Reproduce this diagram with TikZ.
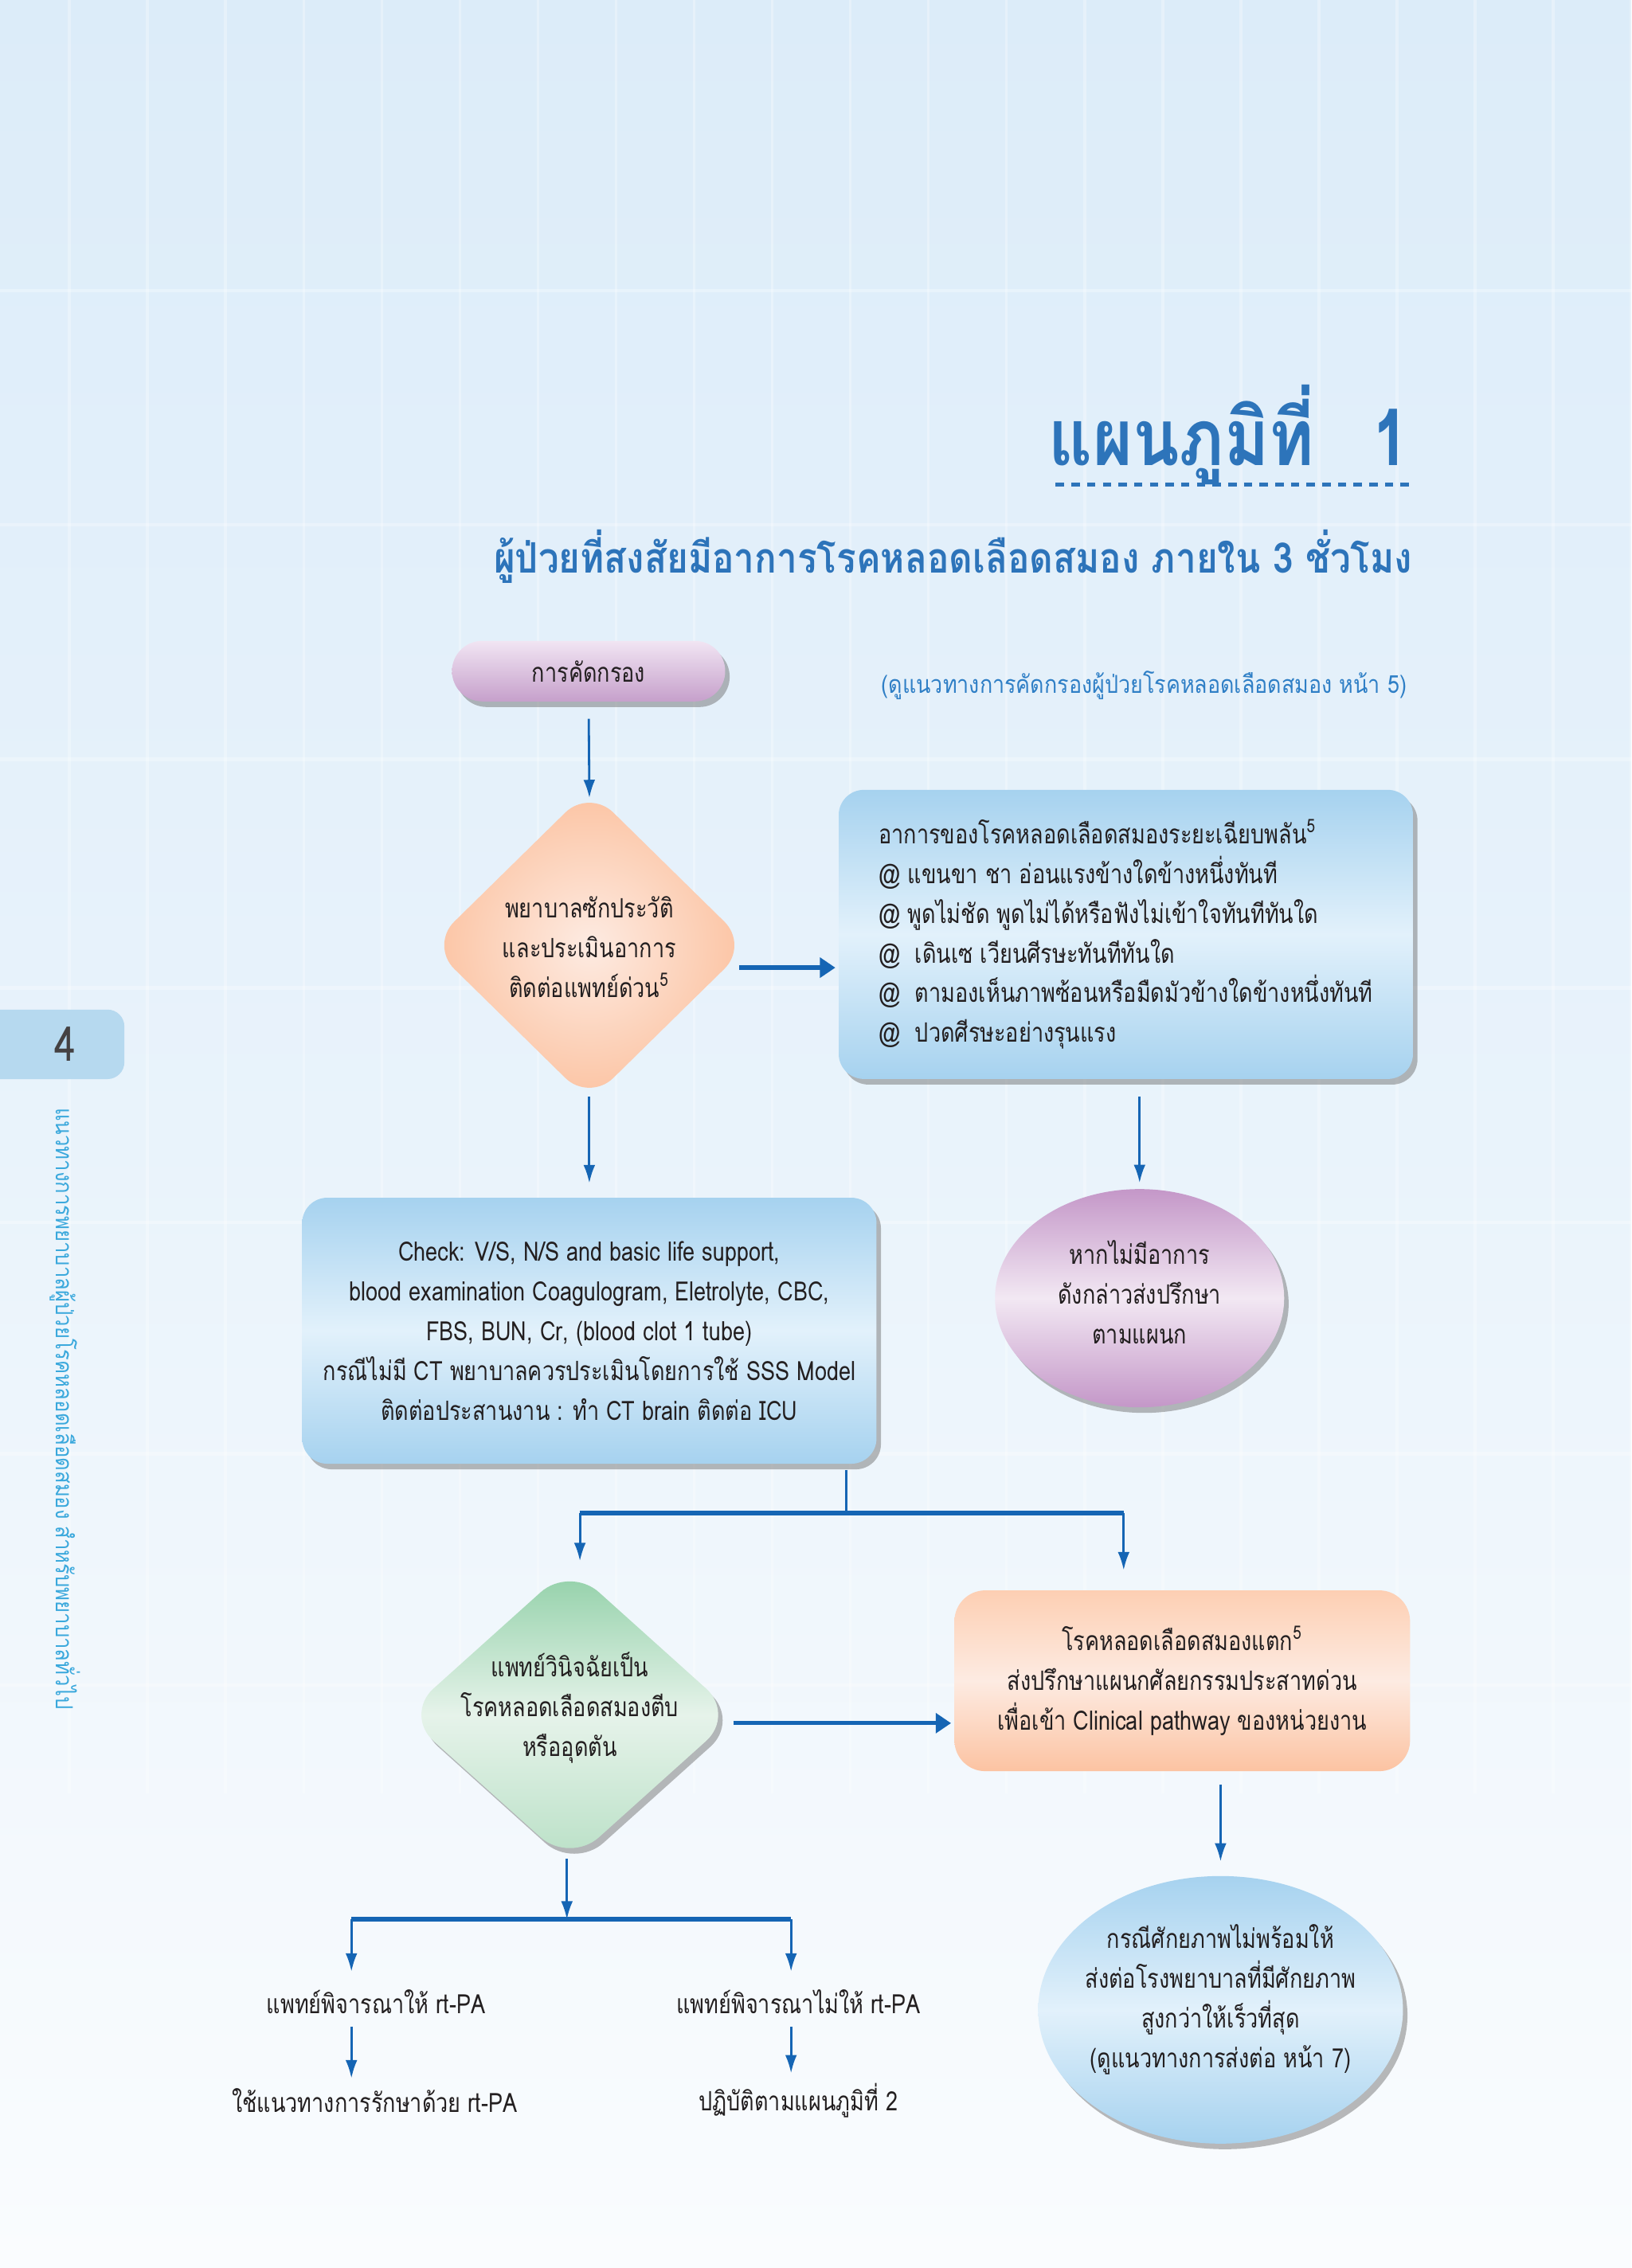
\documentclass[tikz,border=0pt]{standalone}
\usepackage{fontspec}
\setmainfont{Loma}[Script=Thai, FakeStretch=0.81]
\newfontfamily\headfont{Loma}[Script=Thai, FakeStretch=0.87]
\usetikzlibrary{arrows.meta,positioning,shapes.geometric,shadows}

\definecolor{bgtop}{HTML}{DCECF9}
\definecolor{bgmid}{HTML}{E9F3FB}
\definecolor{bgbot}{HTML}{FAFCFE}
\definecolor{linkblue}{HTML}{1565B4}
\definecolor{titleblue}{HTML}{2D74BA}
\definecolor{noteblue}{HTML}{2F7FC6}
\definecolor{sideblue}{HTML}{3AA8DC}
\definecolor{tabblue}{HTML}{B6D9EF}
\definecolor{inkgray}{HTML}{231F20}
\definecolor{skyedge}{HTML}{A6D2EF}
\definecolor{skymid}{HTML}{E2F1FB}
\definecolor{lilacedge}{HTML}{C497C8}
\definecolor{lilacmid}{HTML}{F2E8F3}
\definecolor{lilactop}{HTML}{F1E5F3}
\definecolor{lilacbot}{HTML}{C6A0CB}
\definecolor{peachtop}{HTML}{FDCFB3}
\definecolor{peachedge}{HTML}{FCC3A2}
\definecolor{peachmid}{HTML}{FDEBE2}
\definecolor{mintedge}{HTML}{8FCFA6}
\definecolor{mintmid}{HTML}{E6F3EA}
\definecolor{mintbot}{HTML}{B9E0C6}

\begin{document}
\begin{tikzpicture}[x=0.18156mm,y=-0.18163mm]

\tikzset{
  bodytext/.style={font=\fontsize{9.5}{14.2}\selectfont, text=inkgray, align=center},
  headtext/.style={text=titleblue, inner sep=0pt, anchor=base east},
  softshadow/.style={drop shadow={shadow xshift=1.6pt, shadow yshift=-2pt,
                  fill=black!60, opacity=.45}},
  skybox/.style={rectangle, rounded corners=9pt, top color=skyedge,
                  bottom color=skyedge, middle color=skymid, softshadow,
                  minimum width=72.1mm},
  peachbox/.style={rectangle, rounded corners=11pt, top color=peachtop,
                  bottom color=peachedge, middle color=peachmid,
                  minimum width=57.2mm, minimum height=22.7mm},
  pill/.style={rectangle, rounded corners=3.8mm, top color=lilactop,
                  bottom color=lilacbot, softshadow,
                  minimum width=34.3mm, minimum height=7.6mm},
  peachdiamond/.style={diamond, rounded corners=12pt, inner color=peachmid,
                  outer color=peachedge, inner sep=0pt,
                  minimum width=40mm, minimum height=39.3mm},
  mintdiamond/.style={diamond, rounded corners=14pt, top color=mintedge,
                  bottom color=mintbot, middle color=mintmid, softshadow,
                  inner sep=0pt, minimum width=41.6mm, minimum height=37.4mm},
  lilacoval/.style={ellipse, top color=lilacedge, bottom color=lilacedge,
                  middle color=lilacmid, softshadow, inner sep=0pt,
                  minimum width=36.3mm, minimum height=27.4mm},
  skyoval/.style={ellipse, top color=skyedge, bottom color=skyedge,
                  middle color=skymid, softshadow, inner sep=0pt,
                  minimum width=45.8mm, minimum height=33.6mm},
  flow/.style={draw=linkblue, line width=0.8pt, shorten <=4pt, shorten >=3pt,
                  -{Latex[length=6.5pt, width=4.2pt]}},
  bigflow/.style={draw=linkblue, line width=1.5pt, shorten <=1pt, shorten >=1pt,
                  -{Triangle[length=5.5pt, width=7pt]}},
  stem/.style={draw=linkblue, line width=0.8pt},
  bar/.style={draw=linkblue, line width=1.8pt}
}

% Page and grid
\useasboundingbox (0,0) rectangle (1128,1568);
\shade[top color=bgtop, bottom color=bgbot, middle color=bgmid] (0,0) rectangle (1128,1568);
\foreach \gx in {48,102,...,1128}
  \draw[white, opacity=.3, line width=1pt] (\gx,0) -- (\gx,1240);
\foreach \gy in {201,363,525,683,845,1005,1165}
  \draw[white, opacity=.3, line width=1.2pt] (0,\gy) -- (1128,\gy);

% Side tab
\fill[tabblue, rounded corners=6pt] (-20,698) rectangle (86,746);
\node[font=\fontsize{17}{20}\selectfont, text=inkgray!85] (pagenum) at (45,722) {4};
\node[font=\headfont\fontsize{8.4}{10}\selectfont, text=sideblue, rotate=-90] (side) at (45,974)
  {แนวทางการพยาบาลผู้ป่วยโรคหลอดเลือดสมอง สำหรับพยาบาลทั่วไป};

% Title
\draw[titleblue, line width=1.2pt, dash pattern=on 3pt off 2.6pt] (730,335) -- (978,335);
\node[headtext, font=\headfont\fontsize{28}{30}\selectfont\bfseries]
  (title) at (975,322) {แผนภูมิที่\hspace{0.73em}1};
\node[headtext, font=\headfont\fontsize{15}{18}\selectfont\bfseries]
  (subtitle) at (977,396) {ผู้ป่วยที่สงสัยมีอาการโรคหลอดเลือดสมอง ภายใน 3 ชั่วโมง};

% Screening
\node[pill, bodytext] (screen) at (407,464) {การคัดกรอง};
\node[headtext, font=\headfont\fontsize{8.8}{10}\selectfont, text=noteblue] (note) at (973,479)
  {(ดูแนวทางการคัดกรองผู้ป่วยโรคหลอดเลือดสมอง หน้า 5)};

% Nurse assessment
\node[peachdiamond] (assess) at (407.5,653.5) {};
\node[bodytext] (assess-t) at (407.5,654.5)
  {พยาบาลซักประวัติ\\และประเมินอาการ\\ติดต่อแพทย์ด่วน\textsuperscript{5}};

% Acute signs
\node[skybox, bodytext, align=left, minimum height=36.3mm] (signs) at (778.5,646)
  {อาการของโรคหลอดเลือดสมองระยะเฉียบพลัน\textsuperscript{5}\\
   @ แขนขา ชา อ่อนแรงข้างใดข้างหนึ่งทันที\\
   @ พูดไม่ชัด พูดไม่ได้หรือฟังไม่เข้าใจทันทีทันใด\\
   @\ \ เดินเซ เวียนศีรษะทันทีทันใด\\
   @\ \ ตามองเห็นภาพซ้อนหรือมืดมัวข้างใดข้างหนึ่งทันที\\
   @\ \ ปวดศีรษะอย่างรุนแรง};

% Check
\node[skybox, bodytext, minimum height=33.4mm] (check) at (407.5,920)
  {Check: V/S, N/S and basic life support,\\
   blood examination Coagulogram, Eletrolyte, CBC,\\
   FBS, BUN, Cr, (blood clot 1 tube)\\
   กรณีไม่มี CT พยาบาลควรประเมินโดยการใช้ SSS Model\\
   ติดต่อประสานงาน : ทำ CT brain ติดต่อ ICU};

% No symptoms
\node[lilacoval] (noexp) at (788,897.5) {};
\node[bodytext] (noexp-t) at (788,893.5) {หากไม่มีอาการ\\ดังกล่าวส่งปรึกษา\\ตามแผนก};

% Infarct
\node[mintdiamond] (infarct) at (394,1185.5) {};
\node[bodytext] (infarct-t) at (394,1180.5) {แพทย์วินิจฉัยเป็น\\โรคหลอดเลือดสมองตีบ\\หรืออุดตัน};

% Haemorrhage
\node[peachbox, bodytext] (bleed) at (817.5,1162)
  {โรคหลอดเลือดสมองแตก\textsuperscript{5}\\
   ส่งปรึกษาแผนกศัลยกรรมประสาทด่วน\\
   เพื่อเข้า Clinical pathway ของหน่วยงาน};

% Refer
\node[skyoval] (refer) at (844,1389.5) {};
\node[bodytext] (refer-t) at (844,1382.5)
  {กรณีศักยภาพไม่พร้อมให้\\ส่งต่อโรงพยาบาลที่มีศักยภาพ\\สูงกว่าให้เร็วที่สุด\\(ดูแนวทางการส่งต่อ หน้า 7)};

% rt-PA
\node[bodytext] (give) at (260,1384) {แพทย์พิจารณาให้ rt-PA};
\node[bodytext] (nogive) at (552,1384) {แพทย์พิจารณาไม่ให้ rt-PA};
\node[bodytext] (usetpa) at (259,1452) {ใช้แนวทางการรักษาด้วย rt-PA};
\node[bodytext] (chart2) at (552,1452) {ปฏิบัติตามแผนภูมิที่ 2};

% Forks
\coordinate (fork1) at (585,1046);
\coordinate (fork1l) at (401,1046);
\coordinate (fork1r) at (777,1046);
\coordinate (fork2) at (392,1327);
\coordinate (fork2l) at (243,1327);
\coordinate (fork2r) at (547,1327);

% Lines
\draw[flow, shorten <=6pt, shorten >=-3.5pt] (screen.south) -- (assess.north);
\draw[flow, shorten <=-2pt, shorten >=5pt] (assess.south) -- (check.north);
\draw[bigflow, shorten <=-3.5pt] ([yshift=-8pt]assess.east) -- ([yshift=-8pt]assess.east -| signs.west);
\draw[flow, shorten <=6pt, shorten >=2pt] (signs.south -| noexp.north) -- (noexp.north);
\draw[stem, shorten <=2pt] (check.south -| fork1) -- (fork1);
\draw[bar] (fork1l) -- (fork1r);
\draw[flow, shorten <=0pt, shorten >=1.5pt] (fork1l) -- (fork1l |- infarct.north);
\draw[flow, shorten <=0pt, shorten >=7pt] (fork1r) -- (fork1r |- bleed.north);
\draw[bigflow, shorten <=-1pt] ([yshift=-3pt]infarct.east) -- ([yshift=-3pt]infarct.east -| bleed.west);
\draw[flow, shorten <=4.5pt, shorten >=5pt] (bleed.south -| refer.north) -- (refer.north);
\draw[flow, shorten <=-2pt, shorten >=0pt] (infarct.south -| fork2) -- (fork2);
\draw[bar] (fork2l) -- (fork2r);
\draw[flow, shorten <=0pt] (fork2l) -- (fork2l |- give.north);
\draw[flow, shorten <=0pt] (fork2r) -- (fork2r |- nogive.north);
\draw[flow, shorten <=1pt, shorten >=0pt] (give.south -| fork2l) -- (usetpa.north -| fork2l);
\draw[flow, shorten <=1pt, shorten >=0pt] (nogive.south -| fork2r) -- (chart2.north -| fork2r);

\end{tikzpicture}
\end{document}
